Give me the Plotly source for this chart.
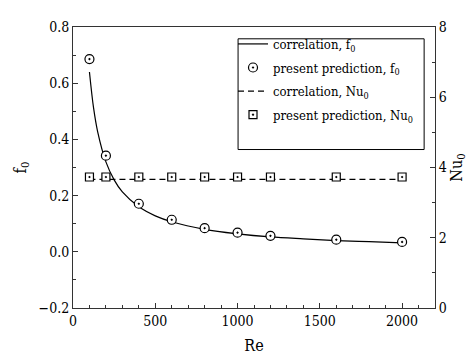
import plotly.graph_objects as go

# correlation f0 curve
re_corr = [100, 125, 150, 200, 250, 300, 400, 500, 600, 800, 1000, 1200, 1400, 1600, 1800, 2000]
f_corr = [0.64, 0.512, 0.427, 0.32, 0.256, 0.213, 0.16, 0.128, 0.107, 0.08, 0.064, 0.053, 0.046, 0.04, 0.036, 0.032]

# present prediction
re_pred = [100, 200, 400, 600, 800, 1000, 1200, 1600, 2000]
f_pred = [0.686, 0.342, 0.171, 0.114, 0.084, 0.068, 0.057, 0.043, 0.035]
nu_pred = [3.73, 3.73, 3.73, 3.73, 3.73, 3.73, 3.73, 3.73, 3.73]

# correlation Nu0
re_nu_corr = [100, 2000]
nu_corr = [3.66, 3.66]

FONT = "DejaVu Serif Condensed, DejaVu Serif, serif"

fig = go.Figure()
fig.add_trace(go.Scatter(x=re_corr, y=f_corr, mode="lines", line=dict(color="black", width=1.2, shape="spline"),
                         name="correlation, f<sub>0</sub>", legendgroup="a"))
fig.add_trace(go.Scatter(x=re_pred, y=f_pred, mode="markers",
                         marker=dict(symbol="circle-dot", size=9, color="white", line=dict(color="black", width=1.2)),
                         name="present prediction, f<sub>0</sub>", legendgroup="b"))
fig.add_trace(go.Scatter(x=re_nu_corr, y=nu_corr, mode="lines", yaxis="y2",
                         line=dict(color="black", width=1.2, dash="6px,4px"),
                         name="correlation, Nu<sub>0</sub>", legendgroup="c"))
fig.add_trace(go.Scatter(x=re_pred, y=nu_pred, mode="markers", yaxis="y2",
                         marker=dict(symbol="square-dot", size=8, color="white", line=dict(color="black", width=1.2)),
                         name="present prediction, Nu<sub>0</sub>", legendgroup="d"))

axis_common = dict(showline=True, linecolor="#333", linewidth=1, ticks="inside", ticklen=5,
                   tickcolor="#333", showgrid=False, zeroline=False,
                   tickfont=dict(family=FONT, size=14, color="black"))

fig.update_layout(
    width=474, height=357,
    margin=dict(l=61, r=47, t=11, b=57),
    paper_bgcolor="white", plot_bgcolor="white",
    font=dict(family=FONT, size=14, color="black"),
    showlegend=True,
    legend=dict(x=0.442, y=0.993, xanchor="left", yanchor="top", borderwidth=0,
                bgcolor="rgba(0,0,0,0)", font=dict(family=FONT, size=13), tracegroupgap=3.7, itemwidth=30),
    shapes=[dict(type="rect", xref="paper", yref="paper", x0=0.456, x1=0.970, y0=0.564, y1=0.958,
                 line=dict(color="black", width=1), fillcolor="rgba(0,0,0,0)")],
    xaxis=dict(range=[0, 2200], tickvals=[0, 500, 1000, 1500, 2000], mirror=True,
               minor=dict(ticks="inside", ticklen=3, dtick=100, tickcolor="#333"),
               title=dict(text="Re", font=dict(family=FONT, size=16), standoff=12), **axis_common),
    yaxis=dict(range=[-0.2, 0.8], dtick=0.2, tickformat=".1f",
               minor=dict(ticks="inside", ticklen=3, dtick=0.1, tickcolor="#333"),
               title=dict(text="f<sub>0</sub>", font=dict(family=FONT, size=16), standoff=8), **axis_common),
    yaxis2=dict(range=[0, 8], dtick=2, overlaying="y", side="right",
                minor=dict(ticks="inside", ticklen=3, dtick=1, tickcolor="#333"),
                title=dict(text="Nu<sub>0</sub>", font=dict(family=FONT, size=16), standoff=4), **axis_common),
)

fig.write_html("out.html")
